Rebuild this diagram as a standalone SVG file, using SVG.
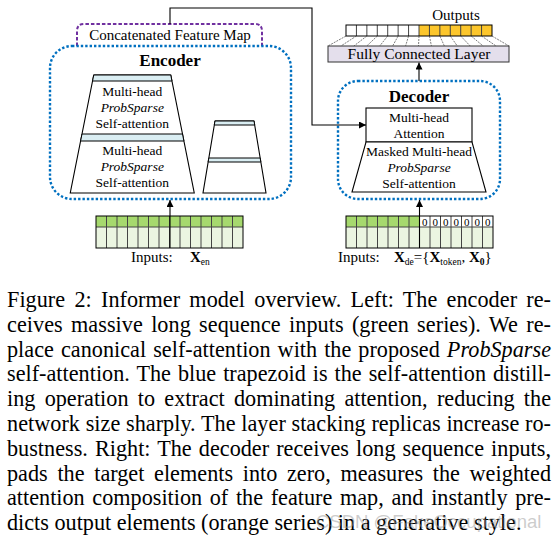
<svg xmlns="http://www.w3.org/2000/svg" width="557" height="545" viewBox="0 0 557 545">
<style>
  text { font-family: "Liberation Serif", "Times New Roman", serif; fill: #000; }
  .lbl { font-size: 13.5px; text-anchor: middle; }
  .it { font-style: italic; }
  .bold { font-weight: bold; }
  .trap { fill: #fff; stroke: #000; stroke-width: 1.1; }
  .band { fill: #daeef3; stroke: #000; stroke-width: 1; }
  .blue { fill: none; stroke: #0070c0; stroke-width: 2.4; stroke-dasharray: 2.4 2; }
  .purple { fill: none; stroke: #7030a0; stroke-width: 2; stroke-dasharray: 3.5 2; }
  .grid { stroke: #444; stroke-width: 1; }
  .fan { stroke: #444; stroke-width: 0.7; stroke-dasharray: 2 1; }
  .cap { font-size: 22.2px; }
  .conn { fill: none; stroke: #000; stroke-width: 1.1; }
</style>
<defs>
  <marker id="arr" viewBox="0 0 10 10" refX="10" refY="5" markerWidth="7" markerHeight="7" markerUnits="userSpaceOnUse" orient="auto">
    <path d="M0,0 L10,5 L0,10 z" fill="#000"/>
  </marker>
</defs>

<!-- Concatenated feature map -->
<g id="concat">
  <path class="purple" d="M77,46 V31 Q77,24 84,24 H255 Q262,24 262,31 V46"/>
  <text x="170" y="40" style="font-size:15px" text-anchor="middle">Concatenated Feature Map</text>
</g>

<!-- Encoder -->
<g id="encoder">
  <rect class="blue" x="50" y="46" width="241" height="153" rx="22"/>
  <text x="170" y="66" class="bold" style="font-size:17px" text-anchor="middle">Encoder</text>
</g>
<g id="enc-attn">
  <polygon class="trap" points="93.75,75 170.75,75 194.25,193 70.25,193"/>
  <polygon class="band" points="93.75,75 170.75,75 171.95,81 92.55,81"/>
  <polygon class="band" points="82,134 182.5,134 183.9,141 80.6,141"/>
  <text class="lbl" x="132.25" y="96">Multi-head</text>
  <text class="lbl it" x="132.25" y="112">ProbSparse</text>
  <text class="lbl" x="132.25" y="128">Self-attention</text>
  <text class="lbl" x="132.25" y="155">Multi-head</text>
  <text class="lbl it" x="132.25" y="171">ProbSparse</text>
  <text class="lbl" x="132.25" y="187">Self-attention</text>
</g>
<g id="enc-replica">
  <polygon class="trap" points="215,121 254,121 266,193 203,193"/>
  <polygon class="band" points="215,121 254,121 254.7,125 214.3,125"/>
  <polygon class="band" points="208.8,158 260.2,158 260.8,162 208.2,162"/>
</g>

<!-- Encoder input -->
<g id="enc-input">
  <rect x="96" y="216" width="147" height="11" fill="#a6d96e"/>
  <rect x="96" y="227" width="147" height="21" fill="#ebf5e1"/>
  <g class="grid">
    <line x1="106.5" y1="216" x2="106.5" y2="248"/><line x1="117" y1="216" x2="117" y2="248"/>
    <line x1="127.5" y1="216" x2="127.5" y2="248"/><line x1="138" y1="216" x2="138" y2="248"/>
    <line x1="148.5" y1="216" x2="148.5" y2="248"/><line x1="159" y1="216" x2="159" y2="248"/>
    <line x1="169.5" y1="216" x2="169.5" y2="248"/><line x1="180" y1="216" x2="180" y2="248"/>
    <line x1="190.5" y1="216" x2="190.5" y2="248"/><line x1="201" y1="216" x2="201" y2="248"/>
    <line x1="211.5" y1="216" x2="211.5" y2="248"/><line x1="222" y1="216" x2="222" y2="248"/>
    <line x1="232.5" y1="216" x2="232.5" y2="248"/>
    <line x1="96" y1="227" x2="243" y2="227"/>
  </g>
  <rect x="96" y="216" width="147" height="32" fill="none" stroke="#000" stroke-width="1"/>
  <text x="131" y="262" style="font-size:15px">Inputs:</text>
  <text x="190" y="262" style="font-size:15px"><tspan class="bold">X</tspan><tspan dy="3" style="font-size:9.5px">en</tspan></text>
</g>

<!-- Decoder -->
<g id="decoder">
  <rect class="blue" x="338" y="81" width="162" height="118" rx="20"/>
  <text x="419" y="102" class="bold" style="font-size:17px" text-anchor="middle">Decoder</text>
</g>
<g id="dec-attn">
  <rect class="trap" x="366" y="108" width="106" height="34"/>
  <text class="lbl" x="419" y="122">Multi-head</text>
  <text class="lbl" x="419" y="138">Attention</text>
</g>
<g id="dec-masked">
  <polygon class="trap" points="366,142 472,142 486,192 352,192"/>
  <text class="lbl" x="419" y="156">Masked Multi-head</text>
  <text class="lbl it" x="419" y="172">ProbSparse</text>
  <text class="lbl" x="419" y="188">Self-attention</text>
</g>

<!-- Decoder input -->
<g id="dec-input">
  <rect x="346" y="216" width="73.5" height="11" fill="#a6d96e"/>
  <rect x="419.5" y="216" width="73.5" height="11" fill="#fff"/>
  <rect x="346" y="227" width="147" height="21" fill="#ebf5e1"/>
  <g class="grid">
    <line x1="356.5" y1="216" x2="356.5" y2="248"/><line x1="367" y1="216" x2="367" y2="248"/>
    <line x1="377.5" y1="216" x2="377.5" y2="248"/><line x1="388" y1="216" x2="388" y2="248"/>
    <line x1="398.5" y1="216" x2="398.5" y2="248"/><line x1="409" y1="216" x2="409" y2="248"/>
    <line x1="419.5" y1="216" x2="419.5" y2="248"/><line x1="430" y1="216" x2="430" y2="248"/>
    <line x1="440.5" y1="216" x2="440.5" y2="248"/><line x1="451" y1="216" x2="451" y2="248"/>
    <line x1="461.5" y1="216" x2="461.5" y2="248"/><line x1="472" y1="216" x2="472" y2="248"/>
    <line x1="482.5" y1="216" x2="482.5" y2="248"/>
    <line x1="346" y1="227" x2="493" y2="227"/>
  </g>
  <rect x="346" y="216" width="147" height="32" fill="none" stroke="#000" stroke-width="1"/>
  <g style="font-size:11px" text-anchor="middle">
    <text x="424.75" y="225.5">0</text><text x="435.25" y="225.5">0</text><text x="445.75" y="225.5">0</text>
    <text x="456.25" y="225.5">0</text><text x="466.75" y="225.5">0</text><text x="477.25" y="225.5">0</text>
    <text x="487.75" y="225.5">0</text>
  </g>
  <text x="338" y="262" style="font-size:15px">Inputs:</text>
  <text x="394" y="262" style="font-size:15px"><tspan class="bold">X</tspan><tspan dy="3" style="font-size:9.5px">de</tspan><tspan dy="-3">={</tspan><tspan class="bold">X</tspan><tspan dy="3" style="font-size:9.5px">token</tspan><tspan dy="-3">, </tspan><tspan class="bold">X</tspan><tspan dy="3" class="bold" style="font-size:9.5px">0</tspan><tspan dy="-3">}</tspan></text>
</g>

<!-- Fully connected layer -->
<g id="fc">
  <rect x="328" y="46" width="181" height="16" fill="#e4dfec" stroke="#333" stroke-width="1"/>
  <text x="419" y="59" style="font-size:15.5px" text-anchor="middle">Fully Connected Layer</text>
</g>

<!-- Outputs -->
<g id="outputs">
  <rect x="346" y="25" width="73" height="11" fill="#fff"/>
  <rect x="419" y="25" width="73" height="11" fill="#fcc62c"/>
  <g class="grid">
    <line x1="356.43" y1="25" x2="356.43" y2="36"/><line x1="366.86" y1="25" x2="366.86" y2="36"/>
    <line x1="377.29" y1="25" x2="377.29" y2="36"/><line x1="387.71" y1="25" x2="387.71" y2="36"/>
    <line x1="398.14" y1="25" x2="398.14" y2="36"/><line x1="408.57" y1="25" x2="408.57" y2="36"/>
    <line x1="419" y1="25" x2="419" y2="36"/><line x1="429.43" y1="25" x2="429.43" y2="36"/>
    <line x1="439.86" y1="25" x2="439.86" y2="36"/><line x1="450.29" y1="25" x2="450.29" y2="36"/>
    <line x1="460.71" y1="25" x2="460.71" y2="36"/><line x1="471.14" y1="25" x2="471.14" y2="36"/>
    <line x1="481.57" y1="25" x2="481.57" y2="36"/>
  </g>
  <rect x="346" y="25" width="146" height="11" fill="none" stroke="#000" stroke-width="1"/>
  <text x="456" y="20" style="font-size:15px" text-anchor="middle">Outputs</text>
  <g class="fan">
    <line x1="346" y1="36" x2="328" y2="46"/><line x1="356.43" y1="36" x2="340.93" y2="46"/>
    <line x1="366.86" y1="36" x2="353.86" y2="46"/><line x1="377.29" y1="36" x2="366.79" y2="46"/>
    <line x1="387.71" y1="36" x2="379.71" y2="46"/><line x1="398.14" y1="36" x2="392.64" y2="46"/>
    <line x1="408.57" y1="36" x2="405.57" y2="46"/><line x1="419" y1="36" x2="418.5" y2="46"/>
    <line x1="429.43" y1="36" x2="431.43" y2="46"/><line x1="439.86" y1="36" x2="444.36" y2="46"/>
    <line x1="450.29" y1="36" x2="457.29" y2="46"/><line x1="460.71" y1="36" x2="470.21" y2="46"/>
    <line x1="471.14" y1="36" x2="483.14" y2="46"/><line x1="481.57" y1="36" x2="496.07" y2="46"/>
    <line x1="492" y1="36" x2="509" y2="46"/>
  </g>
</g>

<!-- Connectors -->
<g id="connectors">
  <polyline class="conn" points="170,24 170,8 312,8 312,125 366,125" marker-end="url(#arr)"/>
  <line class="conn" x1="170" y1="248" x2="170" y2="200" marker-end="url(#arr)"/>
  <line class="conn" x1="419.5" y1="248" x2="419.5" y2="200" marker-end="url(#arr)"/>
  <line class="conn" x1="419" y1="81" x2="419" y2="62.5" marker-end="url(#arr)"/>
</g>

<!-- Caption -->
<g id="caption">
  <text class="cap" x="7" y="307" word-spacing="3.6" textLength="544" lengthAdjust="spacing">Figure 2: Informer model overview. Left: The encoder re-</text>
  <text class="cap" x="7" y="331.8" word-spacing="2.7" textLength="544" lengthAdjust="spacing">ceives massive long sequence inputs (green series). We re-</text>
  <text class="cap" x="7" y="356.6" word-spacing="1.45" textLength="544" lengthAdjust="spacing">place canonical self-attention with the proposed <tspan class="it">ProbSparse</tspan></text>
  <text class="cap" x="7" y="381.4" word-spacing="1.4" textLength="544" lengthAdjust="spacing">self-attention. The blue trapezoid is the self-attention distill-</text>
  <text class="cap" x="7" y="406.2" word-spacing="3.7" textLength="544" lengthAdjust="spacing">ing operation to extract dominating attention, reducing the</text>
  <text class="cap" x="7" y="431" word-spacing="0.1" textLength="544" lengthAdjust="spacing">network size sharply. The layer stacking replicas increase ro-</text>
  <text class="cap" x="7" y="455.8" word-spacing="1.5" textLength="544" lengthAdjust="spacing">bustness. Right: The decoder receives long sequence inputs,</text>
  <text class="cap" x="7" y="480.6" word-spacing="4.1" textLength="544" lengthAdjust="spacing">pads the target elements into zero, measures the weighted</text>
  <text class="cap" x="7" y="505.4" word-spacing="2.1" textLength="544" lengthAdjust="spacing">attention composition of the feature map, and instantly pre-</text>
  <text class="cap" x="7" y="530.2">dicts output elements (orange series) in a generative style.</text>
</g>
<text x="316" y="528" style="font-family:'Liberation Sans','DejaVu Sans',sans-serif;font-size:18.5px;fill:#9a9a9a;fill-opacity:0.5">CSDN @FakeOccupational</text>
</svg>
